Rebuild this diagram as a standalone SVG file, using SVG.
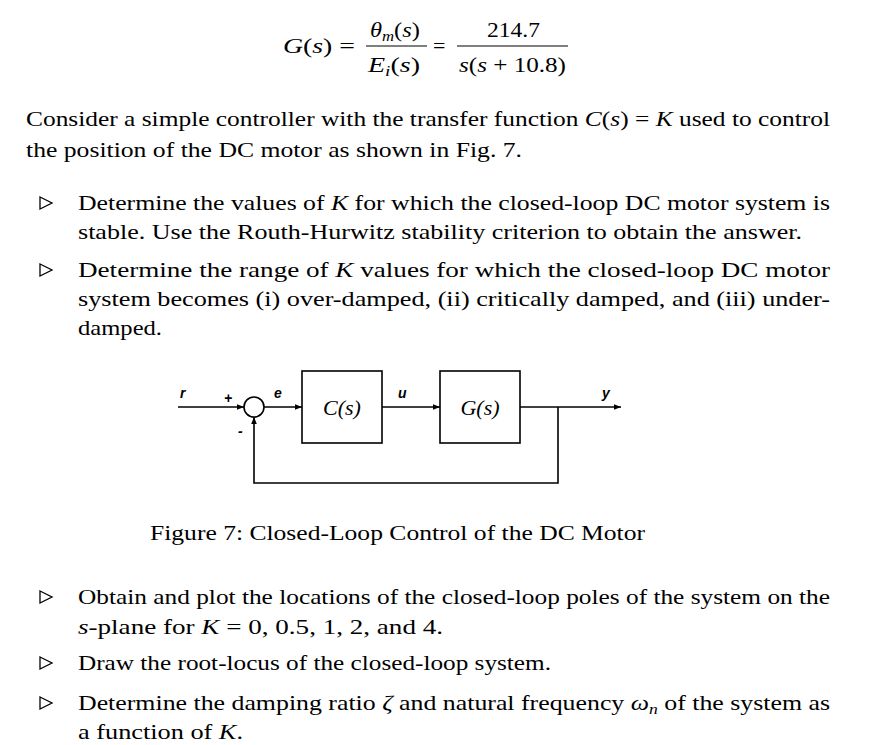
<svg xmlns="http://www.w3.org/2000/svg" width="896" height="745" viewBox="0 0 896 745">
<style>
text{font-family:"Liberation Serif","DejaVu Serif",serif;font-size:22px;fill:#000}
.i{font-style:italic}
.w{stroke:#000;stroke-width:1.6;fill:none}
.lbl{font-family:"Liberation Sans",sans-serif;font-size:14px;font-weight:bold;font-style:italic}
.bl{fill:none;stroke:#000;stroke-width:1.3}
</style>
<defs>
<marker id="a" viewBox="0 0 10 10" refX="10" refY="5" markerWidth="7" markerHeight="7" orient="auto" markerUnits="userSpaceOnUse"><path d="M0,1 L10,5 L0,9 z"/></marker>
<path id="tri" d="M0,-6 L12,0 L0,6 z" class="bl"/>
</defs>
<rect width="896" height="745" fill="#fff"/>
<!-- equation -->
<text x="283" y="53" textLength="72" lengthAdjust="spacingAndGlyphs"><tspan class="i">G</tspan>(<tspan class="i">s</tspan>) =</text>
<text x="370" y="37" class="i" textLength="50" lengthAdjust="spacingAndGlyphs">θ<tspan font-size="15" dy="4">m</tspan><tspan dy="-4" font-style="normal">(</tspan>s<tspan font-style="normal">)</tspan></text>
<line x1="366" y1="46" x2="427" y2="46" stroke="#000" stroke-width="1.2"/>
<text x="368" y="72" class="i" textLength="52" lengthAdjust="spacingAndGlyphs">E<tspan font-size="15" dy="4">i</tspan><tspan dy="-4" font-style="normal">(</tspan>s<tspan font-style="normal">)</tspan></text>
<text x="433" y="53">=</text>
<line x1="457" y1="46" x2="568" y2="46" stroke="#000" stroke-width="1.2"/>
<text x="487" y="37" textLength="53" lengthAdjust="spacingAndGlyphs">214.7</text>
<text x="459" y="72" textLength="107" lengthAdjust="spacingAndGlyphs"><tspan class="i">s</tspan>(<tspan class="i">s</tspan> + 10.8)</text>
<!-- paragraph -->
<text x="26" y="126" textLength="804" lengthAdjust="spacingAndGlyphs">Consider a simple controller with the transfer function <tspan class="i">C</tspan>(<tspan class="i">s</tspan>) = <tspan class="i">K</tspan> used to control</text>
<text x="26" y="157" textLength="496" lengthAdjust="spacingAndGlyphs">the position of the DC motor as shown in Fig. 7.</text>
<use href="#tri" x="40" y="203"/>
<text x="78" y="210" textLength="752" lengthAdjust="spacingAndGlyphs">Determine the values of <tspan class="i">K</tspan> for which the closed-loop DC motor system is</text>
<text x="78" y="239" textLength="724" lengthAdjust="spacingAndGlyphs">stable. Use the Routh-Hurwitz stability criterion to obtain the answer.</text>
<use href="#tri" x="40" y="270"/>
<text x="78" y="277" textLength="752" lengthAdjust="spacingAndGlyphs">Determine the range of <tspan class="i">K</tspan> values for which the closed-loop DC motor</text>
<text x="78" y="306" textLength="752" lengthAdjust="spacingAndGlyphs">system becomes (i) over-damped, (ii) critically damped, and (iii) under-</text>
<text x="78" y="335" textLength="84" lengthAdjust="spacingAndGlyphs">damped.</text>
<!-- block diagram -->
<g id="sum"><circle cx="254" cy="407" r="10" class="w"/></g>
<g id="C"><rect x="302" y="371" width="80" height="72" class="w"/><text x="342" y="415" text-anchor="middle" font-size="17" class="i">C(s)</text></g>
<g id="G"><rect x="440" y="371" width="80" height="72" class="w"/><text x="480" y="415" text-anchor="middle" font-size="17" class="i">G(s)</text></g>
<g id="connectors">
<line x1="178" y1="407" x2="244" y2="407" class="w" marker-end="url(#a)"/>
<line x1="264" y1="407" x2="302" y2="407" class="w" marker-end="url(#a)"/>
<line x1="382" y1="407" x2="440" y2="407" class="w" marker-end="url(#a)"/>
<line x1="520" y1="407" x2="621" y2="407" class="w" marker-end="url(#a)"/>
<polyline points="558,407 558,483 254,483 254,417" class="w" marker-end="url(#a)"/>
</g>
<text x="180" y="398" class="lbl">r</text>
<text x="224" y="403" class="lbl">+</text>
<text x="274" y="398" class="lbl">e</text>
<text x="398" y="398" class="lbl">u</text>
<text x="602" y="398" class="lbl">y</text>
<text x="238" y="436" class="lbl">-</text>
<text x="150" y="540" textLength="495" lengthAdjust="spacingAndGlyphs">Figure 7: Closed-Loop Control of the DC Motor</text>
<use href="#tri" x="40" y="597"/>
<text x="78" y="604" textLength="752" lengthAdjust="spacingAndGlyphs">Obtain and plot the locations of the closed-loop poles of the system on the</text>
<text x="78" y="634" textLength="365" lengthAdjust="spacingAndGlyphs"><tspan class="i">s</tspan>-plane for <tspan class="i">K</tspan> = 0, 0.5, 1, 2, and 4.</text>
<use href="#tri" x="40" y="663"/>
<text x="78" y="670" textLength="473" lengthAdjust="spacingAndGlyphs">Draw the root-locus of the closed-loop system.</text>
<use href="#tri" x="40" y="703"/>
<text x="78" y="710" textLength="752" lengthAdjust="spacingAndGlyphs">Determine the damping ratio <tspan class="i">ζ</tspan> and natural frequency <tspan class="i">ω<tspan font-size="15" dy="4">n</tspan></tspan><tspan dy="-4"> of the system as</tspan></text>
<text x="78" y="739" textLength="165" lengthAdjust="spacingAndGlyphs">a function of <tspan class="i">K</tspan>.</text>
</svg>
